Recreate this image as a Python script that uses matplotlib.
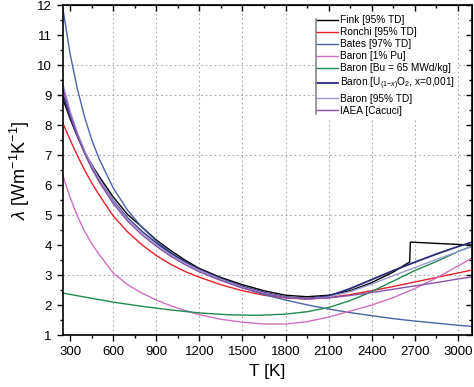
import matplotlib
matplotlib.use('Agg')
import matplotlib.pyplot as plt
from matplotlib.ticker import MultipleLocator
from matplotlib.lines import Line2D

plt.rcParams['font.family'] = ['Liberation Sans', 'DejaVu Sans']
plt.rcParams['mathtext.fontset'] = 'custom'
plt.rcParams['mathtext.rm'] = 'Liberation Sans'
plt.rcParams['mathtext.it'] = 'Liberation Sans:italic'

# Values (T in K, lambda in W/m/K)
t_fink = [250, 300, 350, 400, 450, 500, 600, 700, 800, 900, 1000, 1100, 1200, 1350, 1500,
          1650, 1800, 1950, 2100, 2250, 2400, 2550, 2665, 2670, 3100]
k_fink = [8.85, 8.2, 7.62, 7.1, 6.68, 6.3, 5.6, 5.02, 4.6, 4.17, 3.82, 3.5, 3.22, 2.92, 2.68,
          2.48, 2.33, 2.28, 2.33, 2.48, 2.75, 3.1, 3.44, 4.1, 4.0]

t_ronchi = [250, 300, 350, 400, 450, 500, 600, 700, 800, 900, 1000, 1100, 1200, 1350, 1500,
            1650, 1800, 1950, 2100, 2250, 2400, 2550, 2700, 2850, 3000, 3100]
k_ronchi = [8.05, 7.5, 6.98, 6.5, 6.07, 5.68, 4.97, 4.44, 4.01, 3.65, 3.36, 3.12, 2.93, 2.68, 2.48,
            2.33, 2.24, 2.2, 2.25, 2.35, 2.48, 2.62, 2.77, 2.92, 3.07, 3.17]

t_bates = [250, 300, 350, 400, 450, 500, 600, 700, 800, 900, 1000, 1100, 1200, 1350, 1500,
           1650, 1800, 1950, 2100, 2250, 2400, 2550, 2700, 2850, 3000, 3100]
k_bates = [11.85, 10.35, 9.2, 8.27, 7.51, 6.89, 5.9, 5.16, 4.59, 4.13, 3.75, 3.44, 3.17, 2.84, 2.58,
           2.35, 2.17, 2.01, 1.87, 1.75, 1.65, 1.55, 1.47, 1.4, 1.33, 1.29]

t_pu = [250, 300, 350, 400, 450, 500, 600, 700, 800, 900, 1000, 1100, 1200, 1350, 1500,
        1650, 1800, 1950, 2100, 2250, 2400, 2550, 2700, 2850, 3000, 3100]
k_pu = [6.3, 5.58, 4.97, 4.46, 4.05, 3.7, 3.07, 2.68, 2.4, 2.17, 1.98, 1.82, 1.68, 1.53, 1.43,
        1.37, 1.37, 1.45, 1.6, 1.8, 2.0, 2.25, 2.55, 2.9, 3.3, 3.57]

t_bu = [250, 400, 600, 800, 1000, 1200, 1400, 1600, 1800, 1950, 2100, 2250, 2400, 2550, 2700,
        2850, 3000, 3100]
k_bu = [2.4, 2.27, 2.1, 1.96, 1.84, 1.74, 1.68, 1.66, 1.7, 1.78, 1.92, 2.15, 2.45, 2.8, 3.15,
        3.45, 3.78, 3.97]

t_u = [250, 300, 350, 400, 450, 500, 600, 700, 800, 900, 1000, 1100, 1200, 1350, 1500,
       1650, 1800, 1950, 2100, 2250, 2400, 2550, 2700, 2850, 3000, 3100]
k_u = [9.0, 8.25, 7.65, 7.1, 6.62, 6.2, 5.47, 4.9, 4.45, 4.06, 3.73, 3.44, 3.19, 2.88, 2.62,
       2.42, 2.27, 2.22, 2.3, 2.55, 2.85, 3.15, 3.43, 3.7, 3.95, 4.1]

t_b95 = [250, 300, 350, 400, 450, 500, 600, 700, 800, 900, 1000, 1100, 1200, 1350, 1500,
         1650, 1800, 1950, 2100, 2250, 2400, 2550, 2700, 2850, 3000, 3100]
k_b95 = [9.35, 8.45, 7.75, 7.15, 6.65, 6.22, 5.45, 4.87, 4.41, 4.02, 3.68, 3.4, 3.16, 2.86, 2.6,
         2.4, 2.26, 2.21, 2.27, 2.45, 2.7, 2.98, 3.25, 3.52, 3.78, 3.95]

t_iaea = [250, 300, 350, 400, 450, 500, 600, 700, 800, 900, 1000, 1100, 1200, 1350, 1500,
          1650, 1800, 1950, 2100, 2250, 2400, 2550, 2700, 2850, 3000, 3100]
k_iaea = [9.2, 8.35, 7.65, 7.05, 6.55, 6.12, 5.38, 4.8, 4.34, 3.96, 3.63, 3.35, 3.11, 2.82, 2.57,
          2.38, 2.25, 2.21, 2.24, 2.32, 2.42, 2.53, 2.64, 2.75, 2.87, 2.94]

labels = ['Fink [95% TD]', 'Ronchi [95% TD]', 'Bates [97% TD]', 'Baron [1% Pu]',
          'Baron [Bu = 65 MWd/kg]', r'Baron [U$_{(1\mathrm{-}x)}$O$_2$, x=0,001]',
          'Baron [95% TD]', 'IAEA [Cacuci]']
colors = ['#000000', '#e8202a', '#4a64a8', '#d070c0', '#208a50', '#2a2a78', '#9a9ad0', '#8a50a8']

y_grid = [3, 5, 7, 9, 10]

fig = plt.figure(figsize=(4.74, 3.87), dpi=100)
ax = fig.add_axes([0.133, 0.134, 0.863, 0.853])

series = [(t_fink, k_fink), (t_ronchi, k_ronchi), (t_bates, k_bates), (t_pu, k_pu),
          (t_bu, k_bu), (t_u, k_u), (t_b95, k_b95), (t_iaea, k_iaea)]
lws = [1.0, 1.0, 1.0, 1.0, 1.0, 1.3, 1.0, 1.0]
for (t, k), lab, c, lw in zip(series, labels, colors, lws):
    ax.plot(t, k, color=c, lw=lw, label=lab)

ax.set_xlim(250, 3100)
ax.set_ylim(1, 12)
ax.xaxis.set_minor_locator(MultipleLocator(150))
ax.yaxis.set_major_locator(MultipleLocator(1))
ax.yaxis.set_minor_locator(MultipleLocator(0.5))
ax.set_xticks([300, 600, 900, 1200, 1500, 1800, 2100, 2400, 2700, 3000])

# dotted grid
for x in range(600, 3001, 300):
    ax.axvline(x, color='#aaaaaa', ls=(0, (1.5, 2.5)), lw=0.8, zorder=0)
for y in y_grid:
    ax.axhline(y, color='#aaaaaa', ls=(0, (1.5, 2.5)), lw=0.8, zorder=0)

for s in ax.spines.values():
    s.set_linewidth(1.2)
ax.tick_params(which='both', direction='out', width=1.0, labelsize=9.5)
ax.tick_params(which='major', length=4.5)
ax.tick_params(which='minor', length=2.5)

# mirrored ticks pointing inward on top and right
sec_x = ax.secondary_xaxis('top')
sec_x.xaxis.set_major_locator(MultipleLocator(300))
sec_x.xaxis.set_minor_locator(MultipleLocator(150))
sec_x.tick_params(which='both', direction='in', labeltop=False, width=1.0)
sec_x.tick_params(which='major', length=4.5)
sec_x.tick_params(which='minor', length=2.5)
sec_y = ax.secondary_yaxis('right')
sec_y.yaxis.set_major_locator(MultipleLocator(1))
sec_y.yaxis.set_minor_locator(MultipleLocator(0.5))
sec_y.tick_params(which='both', direction='in', labelright=False, width=1.0)
sec_y.tick_params(which='major', length=4.5)
sec_y.tick_params(which='minor', length=2.5)

ax.set_xlabel('T [K]', fontsize=12.5)
ax.set_ylabel(r'$\lambda$ [Wm$^{-1}$K$^{-1}$]', fontsize=13)

leg = ax.legend(loc='upper left', bbox_to_anchor=(0.614, 0.975), fontsize=7.3,
                frameon=True, facecolor='white', edgecolor='none', framealpha=1,
                handlelength=2.1, handletextpad=0.25, labelspacing=0.2,
                borderpad=0.2, borderaxespad=0)
leg.get_frame().set_boxstyle('square', pad=0)
ax.add_line(Line2D([0.619, 0.619], [0.669, 0.957], transform=ax.transAxes,
                   color='#888888', lw=1.2, zorder=6))

fig.savefig('out.png', dpi=100)
